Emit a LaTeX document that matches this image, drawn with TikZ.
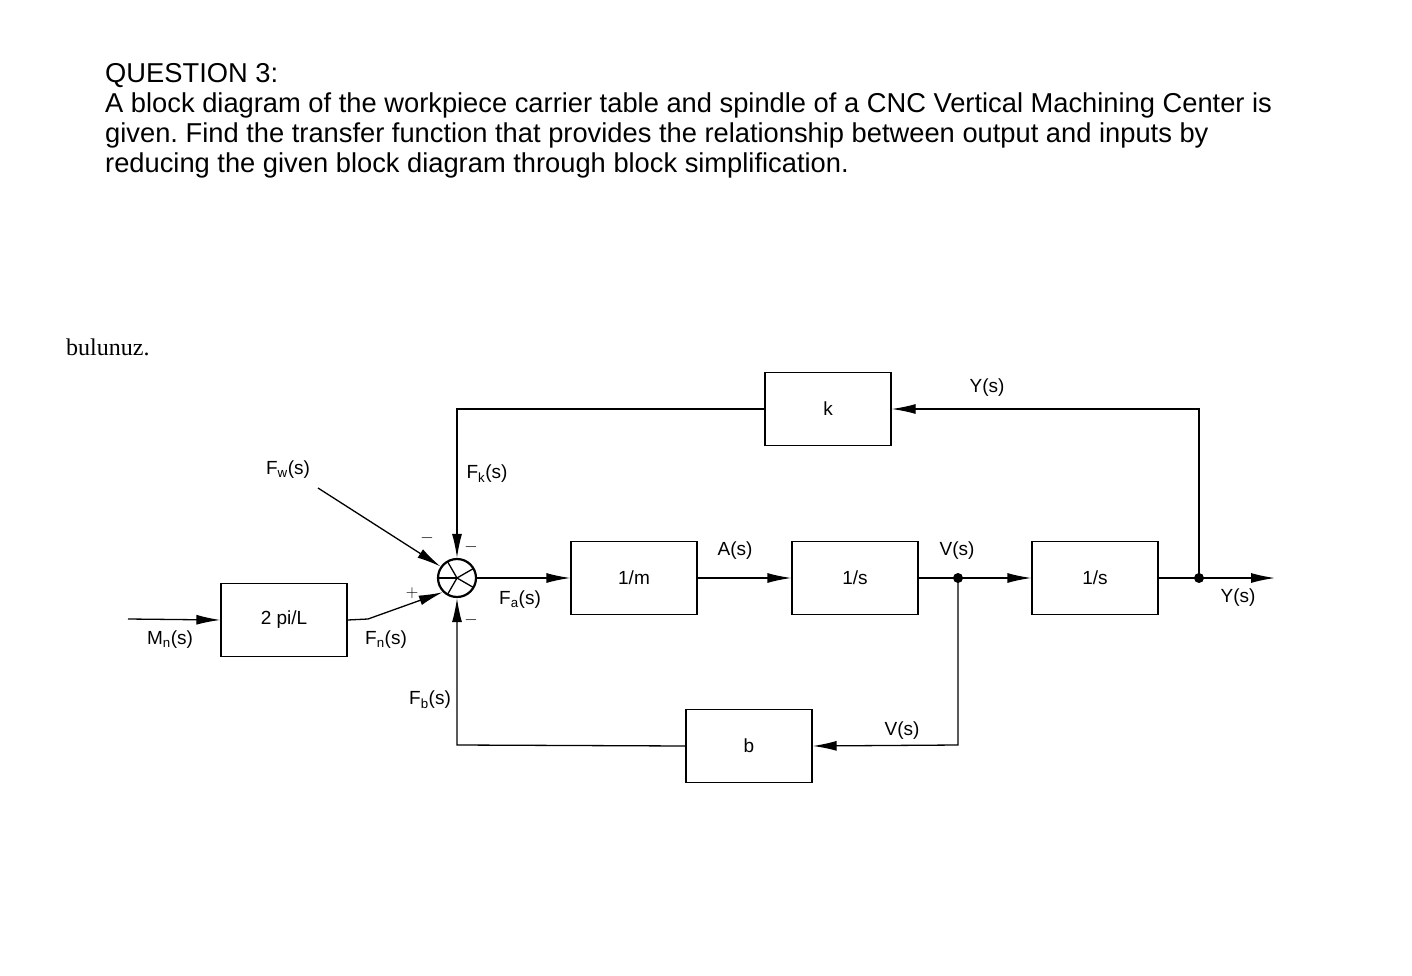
\documentclass[tikz,border=0pt]{standalone}
\usepackage{fontspec}
\setmainfont{Liberation Sans}
\newfontfamily\seriff{Liberation Serif}
\usetikzlibrary{arrows.meta}
\frenchspacing
\begin{document}
\begin{tikzpicture}[x=1pt,y=-1pt,
  blk/.style={draw,line width=1.3pt,minimum width=126pt,minimum height=73pt,inner sep=0pt,font=\fontsize{19}{19}\selectfont},
  ln/.style={line width=1.3pt},
  arr/.style={ln,-{Latex[length=24pt,width=10pt]}},
  lab/.style={font=\fontsize{19}{19}\selectfont,inner sep=0pt},
  dot/.style={circle,fill,inner sep=0pt,minimum size=10pt}]
\useasboundingbox (0,0) rectangle (1412,976);
\node[anchor=west,align=left,font=\fontsize{27.3}{30}\selectfont,inner sep=0pt] (title) at (105,121)
 {QUESTION 3:\\A block diagram of the workpiece carrier table and spindle of a CNC Vertical Machining Center is\\given. Find the transfer function that provides the relationship between output and inputs by\\reducing the given block diagram through block simplification.};
\node[anchor=west,font=\seriff\fontsize{24}{24}\selectfont,inner sep=0pt] (bul) at (66,347) {bulunuz.};
% blocks
\node[blk] (g) at (284,620) {2 pi/L};
\node[blk] (m) at (634,578) {1/m};
\node[blk] (s1) at (855,578) {1/s};
\node[blk] (s2) at (1095,578) {1/s};
\node[blk] (k) at (828,409) {k};
\node[blk] (b) at (749,746) {b};
% summing junction
\node[draw,circle,line width=2.2pt,minimum size=38pt,inner sep=0pt] (sum) at (457,578) {};
\foreach \a in {180,-30,30,120,-120}
  \draw[ln] (sum.center) -- ++(\a:19);
% coordinates
\coordinate (min) at (128,619);
\coordinate (nk) at (368,619);
\coordinate (fw) at (318,488);
\coordinate (c1) at (457,409);
\coordinate (c2) at (457,745);
\coordinate (v) at (958,578);
\coordinate (vb) at (958,745);
\coordinate (y) at (1199,578);
\coordinate (yt) at (1199,409);
\coordinate (yout) at (1275,578);
\node[dot] (vd) at (v) {};
\node[dot] (yd) at (y) {};
% connectors
\draw[arr] (min) -- (g.west);
\draw[arr] (g.east) -- (nk) -- (sum.225);
\draw[arr] (fw) -- (sum.145);
\draw[arr] (k.west) -- (c1) -- (sum.north);
\draw[arr] (b.west) -- (c2) -- (sum.south);
\draw[arr] (sum.east) -- (m.west);
\draw[arr] (m.east) -- (s1.west);
\draw[arr] (s1.east) -- (s2.west);
\draw[arr] (vd.center) -- (vb) -- (b.east);
\draw[arr] (s2.east) -- (yout);
\draw[arr] (yd.center) -- (yt) -- (k.east);
% labels
\node[lab] (lfw) at (288,470) {F\textsubscript{w}(s)};
\node[lab] (lfk) at (487,474) {F\textsubscript{k}(s)};
\node[lab] (lfa) at (520,600) {F\textsubscript{a}(s)};
\node[lab] (la) at (735,551) {A(s)};
\node[lab] (lv) at (957,551) {V(s)};
\node[lab] (ly1) at (987,388) {Y(s)};
\node[lab] (ly2) at (1238,598) {Y(s)};
\node[lab] (lm) at (170,640) {M\textsubscript{n}(s)};
\node[lab] (lfn) at (386,640) {F\textsubscript{n}(s)};
\node[lab] (lfb) at (430,700) {F\textsubscript{b}(s)};
\node[lab] (lv2) at (902,731) {V(s)};
\node[lab] (s-a) at (427,538) {$-$};
\node[lab] (s-b) at (412,593) {$+$};
\node[lab] (s-c) at (471,547) {$-$};
\node[lab] (s-d) at (471,620) {$-$};
\end{tikzpicture}
\end{document}
